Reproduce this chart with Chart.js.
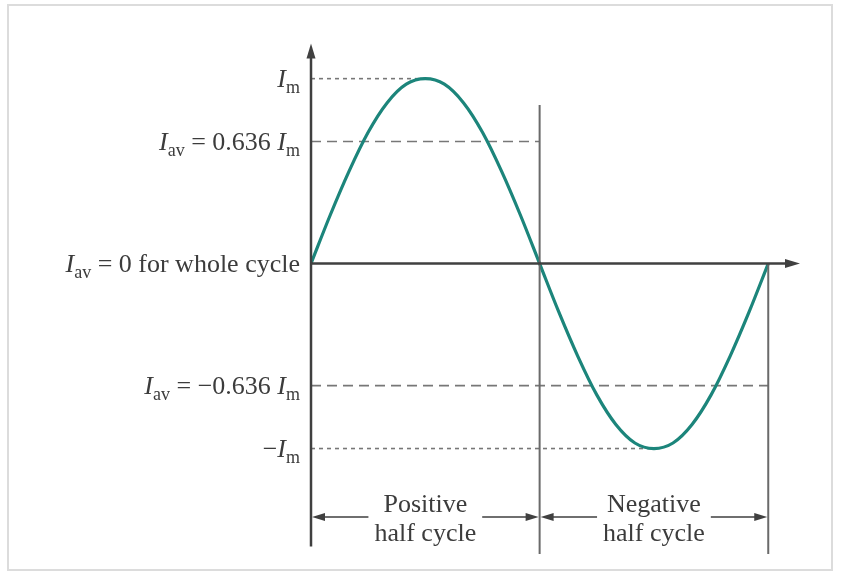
<!DOCTYPE html>
<html>
<head>
<meta charset="utf-8">
<script src="https://cdn.jsdelivr.net/npm/chart.js@4/dist/chart.umd.min.js"></script>
<style>
  html, body { margin: 0; padding: 0; background: #fff; }
  #wrap { width: 845px; height: 578px; }
</style>
</head>
<body>
<div id="wrap"><canvas id="onda"></canvas></div>
<script>
// fase en grados y corriente relativa (I / Im)
var fase = [0, 15, 30, 45, 60, 75, 90, 105, 120, 135, 150, 165, 180,
            195, 210, 225, 240, 255, 270, 285, 300, 315, 330, 345, 360];
var corriente = [0, 0.26, 0.5, 0.71, 0.87, 0.97, 1, 0.97, 0.87, 0.71, 0.5, 0.26, 0,
                 -0.26, -0.5, -0.71, -0.87, -0.97, -1, -0.97, -0.87, -0.71, -0.5, -0.26, 0];

// lineas de referencia: nivel y fase donde terminan
var niveles = [1, 0.66, -0.66, -1];
var finNivel = [90, 180, 360, 270];
var guionNivel = [[4, 4], [10, 6], [10, 6], [4, 4]];

// etiquetas del eje vertical (_x_ = cursiva, {x} = subindice)
var etiquetaValor = [1, 0.66, 0, -0.66, -1];
var etiquetaTexto = ['_I_{m}', '_I_{av} = 0.636 _I_{m}', '_I_{av} = 0 for whole cycle',
                     '_I_{av} = \u22120.636 _I_{m}', '\u2212_I_{m}'];

// semiciclos abajo
var semiciclos = [[0, 180], [180, 360]];
var semicicloTexto = [['Positive', 'half cycle'], ['Negative', 'half cycle']];

var colorOnda = '#1c857b';
var colorTexto = '#3c3c3c';
var serif = '"Liberation Serif", "DejaVu Serif", serif';

function partes(s) {
    var re = /_([^_]+)_|\{([^}]+)\}|([^_{]+)/g, m, out = [];
    while ((m = re.exec(s)) !== null) {
        if (m[1]) out.push({t: m[1], f: 'italic 26px ' + serif, dy: 0});
        else if (m[2]) out.push({t: m[2], f: '18px ' + serif, dy: 6});
        else out.push({t: m[3], f: '26px ' + serif, dy: 0});
    }
    return out;
}

function flecha(ctx, x, y, dir, largo, ancho) {
    ctx.beginPath();
    if (dir == 'up') { ctx.moveTo(x, y); ctx.lineTo(x - ancho/2, y + largo); ctx.lineTo(x + ancho/2, y + largo); }
    if (dir == 'right') { ctx.moveTo(x, y); ctx.lineTo(x - largo, y - ancho/2); ctx.lineTo(x - largo, y + ancho/2); }
    if (dir == 'left') { ctx.moveTo(x, y); ctx.lineTo(x + largo, y - ancho/2); ctx.lineTo(x + largo, y + ancho/2); }
    ctx.closePath();
    ctx.fill();
}

var dibujoPlugin = {
    id: 'dibujo',
    beforeDraw: function(chart) {
        var ctx = chart.ctx;
        ctx.save();
        ctx.fillStyle = '#fff';
        ctx.fillRect(0, 0, chart.width, chart.height);
        ctx.strokeStyle = '#dcdcdc';
        ctx.lineWidth = 2;
        ctx.strokeRect(8, 5, 824, 565);
        ctx.restore();
    },
    afterDatasetsDraw: function(chart) {
        var ctx = chart.ctx, xs = chart.scales.x, ys = chart.scales.y;
        var x0 = xs.getPixelForValue(0), y0 = ys.getPixelForValue(0);
        ctx.save();

        // lineas verticales en 180 y 360
        ctx.strokeStyle = '#6a6a6a';
        ctx.lineWidth = 2;
        ctx.beginPath();
        ctx.moveTo(xs.getPixelForValue(180), ys.getPixelForValue(0.857));
        ctx.lineTo(xs.getPixelForValue(180), ys.getPixelForValue(-1.57));
        ctx.moveTo(xs.getPixelForValue(360), y0);
        ctx.lineTo(xs.getPixelForValue(360), ys.getPixelForValue(-1.57));
        ctx.stroke();

        // ejes
        ctx.strokeStyle = '#404040';
        ctx.fillStyle = '#404040';
        ctx.lineWidth = 2.5;
        ctx.beginPath();
        ctx.moveTo(x0, ys.getPixelForValue(-1.53));
        ctx.lineTo(x0, ys.getPixelForValue(1.12));
        ctx.moveTo(x0, y0);
        ctx.lineTo(xs.getPixelForValue(378), y0);
        ctx.stroke();
        flecha(ctx, x0, ys.getPixelForValue(1.19), 'up', 15, 9);
        flecha(ctx, xs.getPixelForValue(385), y0, 'right', 15, 9);

        // semiciclos
        var yf = ys.getPixelForValue(-1.37);
        ctx.lineWidth = 1.5;
        ctx.font = '26px ' + serif;
        ctx.textAlign = 'center';
        ctx.textBaseline = 'alphabetic';
        for (var i = 0; i < semiciclos.length; i++) {
            var a = xs.getPixelForValue(semiciclos[i][0]) + 1;
            var b = xs.getPixelForValue(semiciclos[i][1]) - 1;
            var c = (a + b) / 2;
            var w = Math.max(ctx.measureText(semicicloTexto[i][0]).width, ctx.measureText(semicicloTexto[i][1]).width) / 2 + 6;
            ctx.beginPath();
            ctx.moveTo(a + 10, yf); ctx.lineTo(c - w, yf);
            ctx.moveTo(c + w, yf); ctx.lineTo(b - 10, yf);
            ctx.stroke();
            flecha(ctx, a, yf, 'left', 13, 8);
            flecha(ctx, b, yf, 'right', 13, 8);
            ctx.fillStyle = colorTexto;
            ctx.fillText(semicicloTexto[i][0], c, yf - 5);
            ctx.fillText(semicicloTexto[i][1], c, yf + 24);
            ctx.fillStyle = '#404040';
        }

        // etiquetas
        ctx.textAlign = 'left';
        ctx.fillStyle = colorTexto;
        for (var k = 0; k < etiquetaValor.length; k++) {
            var p = partes(etiquetaTexto[k]), total = 0;
            p.forEach(function(q) { ctx.font = q.f; q.w = ctx.measureText(q.t).width; total += q.w; });
            var x = x0 - 11 - total, yb = ys.getPixelForValue(etiquetaValor[k]) + 8;
            p.forEach(function(q) { ctx.font = q.f; ctx.fillText(q.t, x, yb + q.dy); x += q.w; });
        }
        ctx.restore();
    }
};

var datasets = [{
    data: fase.map(function(f, i) { return {x: f, y: corriente[i]}; }),
    borderColor: colorOnda,
    borderWidth: 3.2,
    pointRadius: 0,
    cubicInterpolationMode: 'monotone',
    order: 0
}];
for (var n = 0; n < niveles.length; n++) {
    datasets.push({
        data: [{x: 0, y: niveles[n]}, {x: finNivel[n], y: niveles[n]}],
        borderColor: '#777',
        borderWidth: 1.6,
        borderDash: guionNivel[n],
        pointRadius: 0,
        order: 1
    });
}

new Chart(document.getElementById('onda'), {
    type: 'line',
    data: { datasets: datasets },
    options: {
        responsive: true,
        maintainAspectRatio: false,
        animation: false,
        layout: { padding: { left: 311, right: 45, top: 43.5, bottom: 18.5 } },
        plugins: { legend: { display: false }, tooltip: { enabled: false } },
        scales: {
            x: { type: 'linear', min: 0, max: 385, display: false },
            y: { type: 'linear', min: -1.6, max: 1.19, display: false }
        }
    },
    plugins: [dibujoPlugin]
});
</script>
</body>
</html>
